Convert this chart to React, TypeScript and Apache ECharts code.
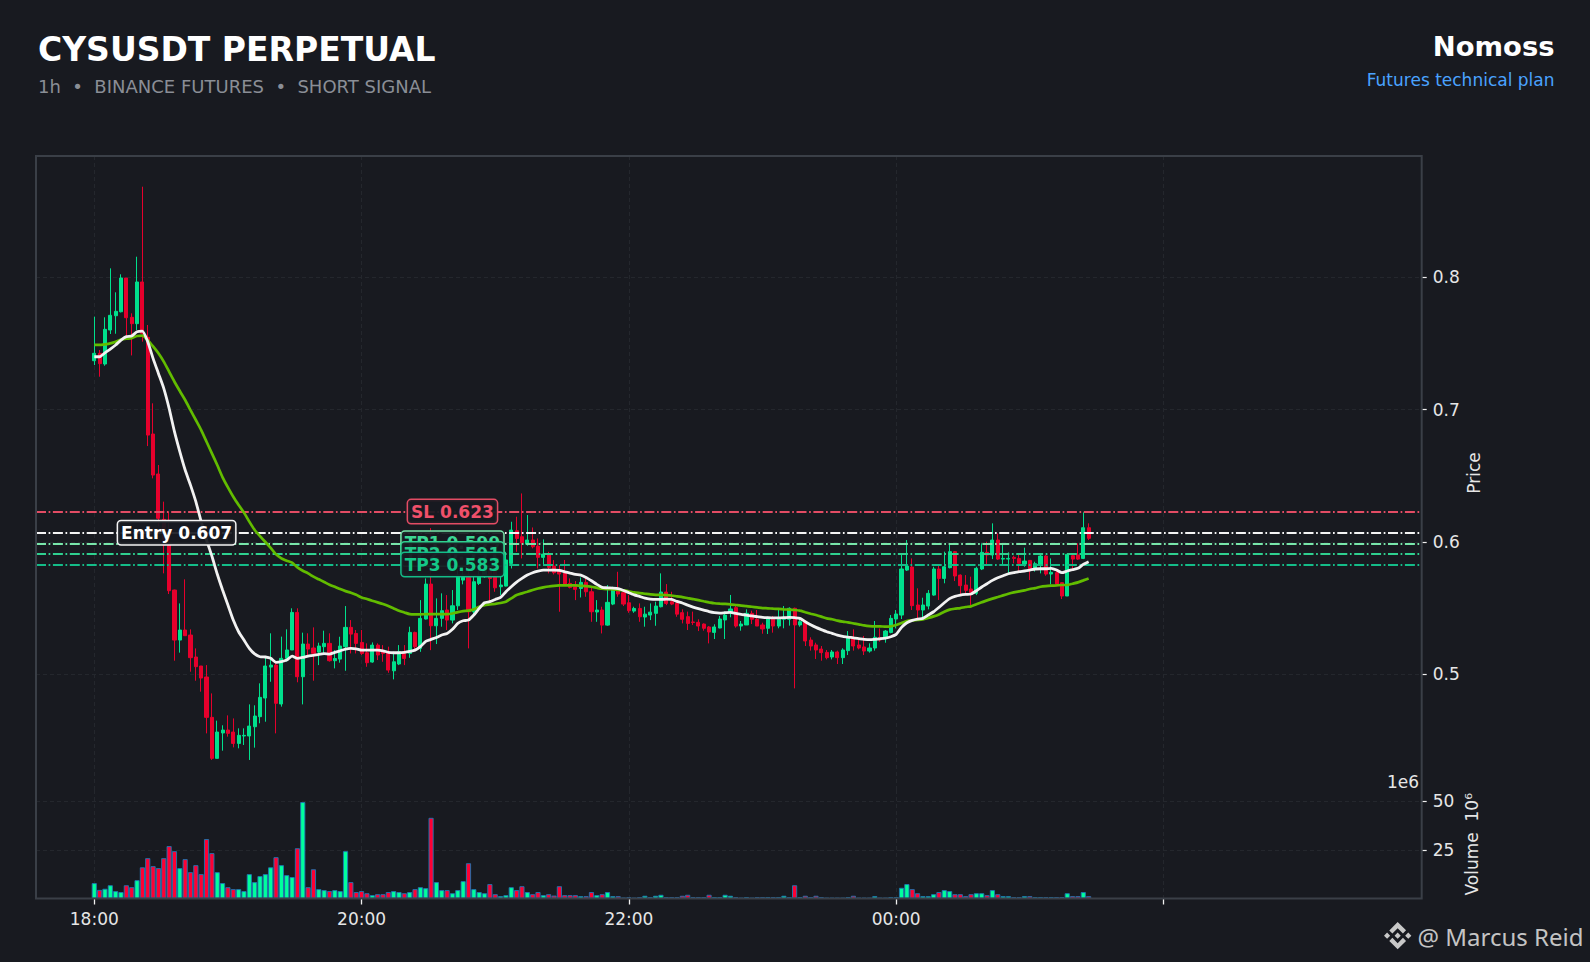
import React, { useEffect, useRef } from "react";
import * as echarts from "echarts";

const opens = [
  .7370,.7426,.7345,.7602,.7710,.7740,.7995,.7698,.7650,.7965,
  .7547,.6816,.6514,.6171,.5977,.5637,.5259,.5335,.5297,.5131,
  .5063,.4980,.4675,.4365,.4557,.4579,.4564,.4478,.4534,.4534,
  .4604,.4680,.4821,.5055,.5070,.4776,.5121,.5184,.5468,.4982,
  .5229,.5199,.5168,.5209,.5234,.5103,.5115,.5209,.5355,.5309,
  .5241,.5163,.5093,.5221,.5171,.5163,.5027,.5078,.5158,.5158,
  .5317,.5196,.5418,.5682,.5367,.5423,.5486,.5410,.5518,.5712,
  .5750,.5473,.5687,.5738,.5800,.5800,.5662,.5667,.5838,.6085,
  .6040,.5984,.6015,.5969,.5884,.5909,.5818,.5788,.5768,.5687,
  .5662,.5649,.5695,.5624,.5471,.5486,.5372,.5531,.5632,.5617,
  .5541,.5478,.5498,.5433,.5448,.5461,.5511,.5622,.5549,.5536,
  .5466,.5436,.5396,.5393,.5380,.5358,.5317,.5350,.5411,.5466,
  .5504,.5365,.5373,.5461,.5416,.5373,.5348,.5416,.5365,.5416,
  .5416,.5499,.5373,.5398,.5259,.5222,.5191,.5166,.5131,.5169,
  .5126,.5179,.5270,.5222,.5207,.5176,.5199,.5277,.5272,.5317,
  .5418,.5448,.5788,.5811,.5524,.5486,.5516,.5599,.5796,.5725,
  .5806,.5927,.5750,.5675,.5645,.5612,.5796,.5922,.5902,.6015,
  .5871,.5871,.5884,.5876,.5834,.5861,.5796,.5831,.5894,.5758,
  .5768,.5693,.5592,.5897,.5902,.5876,.6108,
];
const closes = [
  .7426,.7348,.7607,.7713,.7743,.7995,.7695,.7650,.7965,.7577,
  .6808,.6506,.6179,.5977,.5632,.5259,.5335,.5292,.5126,.5058,
  .4972,.4675,.4365,.4564,.4579,.4554,.4478,.4539,.4539,.4609,
  .4685,.4826,.5063,.5070,.4781,.5121,.5184,.5468,.4982,.5229,
  .5191,.5159,.5214,.5234,.5103,.5120,.5214,.5355,.5304,.5234,
  .5158,.5088,.5221,.5146,.5158,.5032,.5095,.5171,.5120,.5317,
  .5209,.5423,.5682,.5367,.5423,.5481,.5410,.5518,.5750,.5750,
  .5473,.5700,.5750,.5813,.5725,.5654,.5675,.5864,.6090,.6027,
  .5994,.6015,.5964,.5884,.5909,.5808,.5768,.5758,.5682,.5657,
  .5642,.5695,.5624,.5473,.5486,.5372,.5544,.5637,.5607,.5531,
  .5481,.5498,.5435,.5455,.5470,.5516,.5622,.5536,.5531,.5455,
  .5416,.5385,.5392,.5365,.5348,.5320,.5358,.5418,.5448,.5494,
  .5365,.5380,.5461,.5416,.5365,.5343,.5423,.5365,.5416,.5431,
  .5499,.5373,.5398,.5252,.5214,.5184,.5164,.5126,.5169,.5126,
  .5184,.5280,.5214,.5199,.5176,.5199,.5280,.5260,.5327,.5423,
  .5456,.5796,.5818,.5519,.5486,.5524,.5612,.5796,.5725,.5813,
  .5927,.5743,.5670,.5635,.5607,.5801,.5922,.5902,.6015,.5871,
  .5876,.5876,.5876,.5839,.5856,.5796,.5836,.5894,.5758,.5771,
  .5680,.5592,.5907,.5871,.5871,.6108,.6028,
];
const lows = [
  .7337,.7249,.7332,.7572,.7574,.7735,.7539,.7410,.7602,.7514,
  .6725,.6481,.6116,.5763,.5607,.5103,.5164,.5290,.5020,.4952,
  .4869,.4554,.4353,.4365,.4423,.4529,.4448,.4441,.4466,.4353,
  .4446,.4630,.4642,.4944,.4554,.4756,.5096,.5184,.4940,.4773,
  .5146,.4952,.5070,.5146,.5096,.5045,.5088,.5027,.5158,.5158,
  .5146,.5057,.5088,.5108,.5095,.5012,.4962,.5070,.5070,.5125,
  .5183,.5170,.5415,.5183,.5229,.5360,.5335,.5385,.5486,.5680,
  .5196,.5435,.5675,.5730,.5549,.5624,.5599,.5664,.5800,.5926,
  .5876,.5972,.5952,.5800,.5826,.5763,.5755,.5473,.5675,.5649,
  .5561,.5581,.5586,.5397,.5397,.5309,.5367,.5523,.5586,.5516,
  .5465,.5465,.5397,.5360,.5410,.5367,.5506,.5523,.5523,.5435,
  .5385,.5335,.5373,.5327,.5330,.5234,.5267,.5348,.5267,.5431,
  .5353,.5330,.5373,.5380,.5365,.5307,.5305,.5315,.5348,.5348,
  .5368,.4894,.5360,.5214,.5179,.5116,.5103,.5113,.5113,.5078,
  .5078,.5146,.5179,.5189,.5146,.5164,.5179,.5247,.5239,.5310,
  .5347,.5418,.5781,.5486,.5423,.5418,.5491,.5594,.5562,.5688,
  .5801,.5705,.5604,.5609,.5519,.5599,.5788,.5826,.5871,.5864,
  .5821,.5755,.5839,.5781,.5813,.5713,.5776,.5763,.5745,.5680,
  .5675,.5569,.5592,.5796,.5864,.5871,.6015,
];
const highs = [
  .7703,.7451,.7698,.8068,.7887,.8023,.7995,.7728,.8156,.8685,
  .7640,.7048,.6582,.6305,.6229,.5640,.5536,.5718,.5340,.5196,
  .5063,.5070,.4856,.4650,.4615,.4690,.4667,.4592,.4592,.4773,
  .4766,.4932,.5133,.5310,.5096,.5285,.5340,.5499,.5499,.5315,
  .5310,.5355,.5239,.5330,.5310,.5183,.5284,.5516,.5410,.5335,
  .5335,.5234,.5241,.5234,.5221,.5209,.5171,.5221,.5221,.5360,
  .5322,.5561,.5725,.6105,.5574,.5612,.5599,.5637,.5788,.5795,
  .5850,.5738,.5813,.5900,.5880,.5838,.5738,.5926,.6153,.6191,
  .6367,.6204,.6110,.6027,.6020,.5926,.5863,.5826,.5864,.5725,
  .5705,.5732,.5738,.5662,.5561,.5511,.5675,.5662,.5775,.5637,
  .5599,.5511,.5536,.5511,.5536,.5549,.5763,.5682,.5624,.5549,
  .5491,.5474,.5474,.5416,.5385,.5365,.5378,.5441,.5474,.5600,
  .5524,.5403,.5491,.5481,.5486,.5390,.5436,.5441,.5486,.5516,
  .5506,.5504,.5423,.5411,.5280,.5239,.5214,.5184,.5184,.5179,
  .5197,.5327,.5340,.5267,.5290,.5234,.5403,.5347,.5335,.5448,
  .5486,.5907,.6015,.5876,.5650,.5579,.5637,.5813,.5826,.5927,
  .5990,.5932,.5755,.5750,.5738,.5813,.5990,.6002,.6141,.6065,
  .5977,.5922,.5897,.5914,.5957,.5864,.5851,.5907,.5902,.5876,
  .5781,.5695,.5907,.5902,.5990,.6224,.6141,
];
const volumesM = [
  7.9,4.4,5,6.8,3.8,3.3,6.8,5.8,9.4,16,
  20.7,16.6,15.6,20.7,26.9,24.3,15.6,20.2,13.5,17.1,
  12.5,30.5,23.3,13.5,7.9,5.8,4.8,4.8,3.8,12.5,
  8.4,11.5,12.5,16,21.2,17.1,12,11,25.8,49.5,
  5.8,15,4.8,4.3,3.8,4.3,3.8,24.3,8.4,3.3,
  3.8,2.7,1.7,2.2,2.2,3.3,3.8,3.3,2.7,3.3,
  4.8,5.8,5.3,41.4,8.4,4.3,4.3,2.7,4.3,8.9,
  18.1,4.8,3.3,2.7,7.4,2.2,1.2,1.7,5.8,4.3,
  6.3,3.3,2.2,3.3,1.7,2.2,1.5,6.3,1.7,1.7,
  1.7,1.2,1.2,3.3,1.7,2.2,3.3,1.2,1.2,.4,
  .7,.3,.7,1.4,.7,1.4,1.9,.7,.7,.7,
  1.4,1.9,.7,.7,.7,1.9,.7,.7,1.9,1.4,
  .7,.3,.7,.3,.7,.7,.7,.7,.7,1.4,
  .7,6.8,.7,1.4,.7,1.4,.7,.3,.3,.3,
  .3,.7,1.4,.3,.3,.3,1.2,.3,.3,.7,
  .7,5.5,7.4,4.8,2.7,1.2,1.2,2.2,3.3,4.3,
  3.8,2.2,2.2,1.2,2.2,2.7,2.7,1.7,4.3,2.2,
  1.2,1.2,.7,.7,1.2,1.2,.7,.7,.7,.7,
  .7,.7,2.7,1.2,1.2,3.3,1.2,
];
const maFast = [
  .7400,.7400,.7430,.7458,.7489,.7526,.7552,.7557,.7589,.7594,
  .7514,.7388,.7274,.7161,.7010,.6834,.6683,.6544,.6430,.6305,
  .6154,.6015,.5894,.5758,.5637,.5524,.5410,.5322,.5259,.5196,
  .5154,.5133,.5131,.5121,.5091,.5096,.5108,.5138,.5121,.5128,
  .5138,.5143,.5151,.5156,.5153,.5166,.5178,.5191,.5196,.5193,
  .5183,.5183,.5183,.5183,.5178,.5166,.5163,.5163,.5166,.5173,
  .5183,.5209,.5249,.5264,.5279,.5297,.5309,.5340,.5385,.5405,
  .5410,.5448,.5498,.5541,.5549,.5566,.5581,.5624,.5662,.5697,
  .5725,.5750,.5768,.5780,.5788,.5788,.5788,.5785,.5775,.5765,
  .5755,.5750,.5732,.5707,.5680,.5657,.5654,.5652,.5647,.5634,
  .5617,.5601,.5589,.5576,.5569,.5566,.5566,.5569,.5566,.5551,
  .5539,.5523,.5508,.5496,.5486,.5474,.5466,.5463,.5466,.5469,
  .5461,.5453,.5448,.5441,.5436,.5431,.5428,.5426,.5426,.5428,
  .5431,.5428,.5423,.5398,.5375,.5355,.5338,.5322,.5310,.5297,
  .5287,.5282,.5275,.5270,.5265,.5262,.5265,.5269,.5274,.5284,
  .5302,.5355,.5390,.5408,.5418,.5423,.5448,.5473,.5506,.5541,
  .5572,.5589,.5599,.5604,.5607,.5632,.5660,.5685,.5710,.5730,
  .5745,.5760,.5768,.5776,.5781,.5788,.5796,.5798,.5798,.5801,
  .5788,.5768,.5781,.5791,.5801,.5831,.5851,
];
const maSlow = [
  .7489,.7489,.7494,.7501,.7514,.7529,.7536,.7541,.7557,.7559,
  .7525,.7478,.7426,.7363,.7287,.7211,.7141,.7073,.6997,.6922,
  .6846,.6758,.6670,.6582,.6489,.6413,.6342,.6280,.6222,.6154,
  .6091,.6045,.6000,.5955,.5907,.5877,.5859,.5844,.5808,.5783,
  .5763,.5738,.5718,.5698,.5677,.5662,.5644,.5629,.5617,.5601,
  .5581,.5569,.5556,.5544,.5531,.5516,.5498,.5481,.5468,.5455,
  .5453,.5453,.5455,.5455,.5455,.5455,.5455,.5460,.5470,.5478,
  .5481,.5491,.5511,.5523,.5528,.5533,.5539,.5549,.5574,.5599,
  .5612,.5624,.5637,.5649,.5657,.5664,.5669,.5672,.5672,.5672,
  .5672,.5669,.5667,.5662,.5654,.5647,.5644,.5642,.5639,.5634,
  .5627,.5619,.5614,.5609,.5604,.5601,.5601,.5599,.5596,.5589,
  .5584,.5576,.5569,.5561,.5552,.5544,.5537,.5534,.5532,.5529,
  .5524,.5519,.5516,.5511,.5506,.5501,.5499,.5496,.5494,.5491,
  .5489,.5486,.5481,.5469,.5458,.5448,.5436,.5423,.5416,.5406,
  .5398,.5393,.5385,.5378,.5370,.5365,.5363,.5363,.5360,.5363,
  .5373,.5388,.5403,.5408,.5411,.5415,.5426,.5438,.5453,.5473,
  .5489,.5496,.5501,.5509,.5514,.5529,.5544,.5559,.5572,.5584,
  .5597,.5609,.5619,.5627,.5635,.5645,.5652,.5662,.5667,.5670,
  .5672,.5675,.5675,.5685,.5695,.5710,.5725,
];

const xTicks = [0, 50, 100, 150, 200];
const xTickLabels = ["18:00", "20:00", "22:00", "00:00", ""];
const priceTicks = [0.5, 0.6, 0.7, 0.8];
const volumeTicks = [25, 50];

const levelNames = ["SL", "Entry", "TP1", "TP2", "TP3"];
const levelPrices = [0.623, 0.607, 0.599, 0.591, 0.583];
const levelColors = ["#E34C64", "#F4F4F4", "#78E6AA", "#2FD08F", "#14BC88"];
const levelTextColors = ["#F0506A", "#FFFFFF", "#3CD694", "#24C98A", "#14C788"];
const levelLabelX = [67, 15.4, 67, 67, 67];

const BG = "#181A20";
const FONT = "DejaVu Sans";
const CANDLE_UP = "#00E08C";
const CANDLE_DOWN = "#E6002C";
const VOL_UP = "#00FF9C";
const VOL_DOWN = "#FF0033";

const LOGO =
  "M16.624 13.92l2.718 2.716-7.353 7.353-7.353-7.352 2.717-2.717 4.636 4.66 4.635-4.66zm4.637-4.636L24 12l-2.715 2.716L18.568 12l2.693-2.716zm-9.272 0l2.716 2.691-2.717 2.717L9.272 12l2.716-2.715zm-9.273 0L5.41 12l-2.692 2.692L0 12l2.716-2.716zM11.99.01l7.352 7.33-2.717 2.715-4.636-4.636-4.635 4.66-2.717-2.716L11.989.011z";
echarts.graphic.registerShape("binanceLogo", echarts.graphic.extendPath(LOGO, {}) as any);

const GRID_LEFT = 36;
const GRID_RIGHT = 1590 - 1421.7;
const xMin = -10.9;
const xMax = 248.3;
const AXIS_FONT = 17;

const splitLine = { show: true, lineStyle: { color: "#24272D", width: 1, type: [4, 3] as any } };

export default function App() {
  const ref = useRef<HTMLDivElement>(null);
  useEffect(() => {
    document.body.style.margin = "0";
    document.body.style.background = BG;
    const chart = echarts.init(ref.current!, undefined, { renderer: "svg" });
    const idx = opens.map((_, i) => i);
    chart.setOption({
      animation: false,
      backgroundColor: BG,
      textStyle: { fontFamily: FONT },
      grid: [
        { left: GRID_LEFT, right: GRID_RIGHT, top: 156, height: 634 },
        { left: GRID_LEFT, right: GRID_RIGHT, top: 790, height: 108.5 },
      ],
      xAxis: [
        {
          type: "value", gridIndex: 0, min: xMin, max: xMax,
          axisLine: { show: false, onZero: false },
          axisTick: { show: false, customValues: xTicks },
          axisLabel: { show: false, customValues: xTicks },
          splitLine,
        },
        {
          type: "value", gridIndex: 1, min: xMin, max: xMax,
          axisLine: { show: false, onZero: false },
          axisTick: { show: true, customValues: xTicks, length: 6, lineStyle: { color: "#F0F0F0", width: 1.3 } },
          axisLabel: {
            show: true, customValues: xTicks.slice(0, 4), margin: 12, color: "#E6E6E6", fontSize: AXIS_FONT, fontFamily: FONT,
            formatter: (v: number) => xTickLabels[xTicks.indexOf(v)] ?? "",
          },
          splitLine,
        },
      ],
      yAxis: [
        {
          type: "value", gridIndex: 0, position: "right", min: 0.4126, max: 0.8917, scale: true,
          name: "Price", nameLocation: "middle", nameRotate: 90, nameGap: 44, nameMoveOverlap: false,
          nameTextStyle: { color: "#E6E6E6", fontSize: AXIS_FONT, fontFamily: FONT },
          axisLine: { show: false, onZero: false },
          axisTick: { show: true, customValues: priceTicks, length: 5, lineStyle: { color: "#F0F0F0", width: 1.2 } },
          axisLabel: {
            show: true, customValues: priceTicks, margin: 11, color: "#E6E6E6", fontSize: AXIS_FONT, fontFamily: FONT,
            formatter: (v: number) => v.toFixed(1),
          },
          splitLine,
        },
        {
          type: "value", gridIndex: 1, position: "right", min: 0, max: 55.7,
          name: "Volume  10⁶", nameLocation: "middle", nameRotate: 90, nameGap: 42, nameMoveOverlap: false,
          nameTextStyle: { color: "#E6E6E6", fontSize: AXIS_FONT, fontFamily: FONT },
          axisLine: { show: false, onZero: false },
          axisTick: { show: true, customValues: volumeTicks, length: 5, lineStyle: { color: "#F0F0F0", width: 1.2 } },
          axisLabel: {
            show: true, customValues: volumeTicks, margin: 11, color: "#E6E6E6", fontSize: AXIS_FONT, fontFamily: FONT,
            formatter: (v: number) => String(v),
          },
          splitLine,
        },
      ],
      series: [
        {
          type: "candlestick", xAxisIndex: 0, yAxisIndex: 0, barWidth: 3.6, z: 2,
          itemStyle: {
            color: CANDLE_UP, color0: CANDLE_DOWN, borderColor: CANDLE_UP, borderColor0: CANDLE_DOWN,
            borderColorDoji: CANDLE_UP, borderWidth: 1,
          },
          data: idx.map((i) => [i, opens[i], closes[i], lows[i], highs[i]]),
          markLine: {
            silent: true, symbol: "none", animation: false, z: 3, precision: 3,
            label: { show: false },
            data: levelPrices.map((p, i) => ({
              yAxis: p,
              lineStyle: { color: levelColors[i], width: 2, opacity: 1, type: [10, 2.6, 1.7, 2.6] },
            })),
          },
        },
        {
          type: "line", xAxisIndex: 0, yAxisIndex: 0, z: 4, showSymbol: false, symbol: "none", smooth: 0.2,
          lineStyle: { color: "#62BC00", width: 2.7 },
          data: idx.map((i) => [i, maSlow[i]]),
        },
        {
          type: "line", xAxisIndex: 0, yAxisIndex: 0, z: 5, showSymbol: false, symbol: "none", smooth: 0.2,
          lineStyle: { color: "#F2F2F2", width: 2.8 },
          data: idx.map((i) => [i, maFast[i]]),
        },
        {
          type: "scatter", xAxisIndex: 0, yAxisIndex: 0, z: 8, symbolSize: 0, silent: true,
          itemStyle: { opacity: 1 },
          data: levelNames.map((n, i) => ({
            value: [levelLabelX[i], levelPrices[i]],
            label: {
              show: true, position: "inside", formatter: `${n} ${levelPrices[i].toFixed(3)}`,
              color: levelTextColors[i], fontFamily: FONT, fontWeight: "bold", fontSize: 17,
              backgroundColor: "rgba(24,26,32,0.93)", borderColor: levelColors[i], borderWidth: 1.5,
              borderRadius: 3, padding: [3, 3, 3, 3],
            },
          })),
        },
        {
          type: "bar", xAxisIndex: 1, yAxisIndex: 1, barWidth: 5.1, z: 2,
          data: idx.map((i) => ({
            value: [i, volumesM[i]],
            itemStyle: {
              color: closes[i] >= opens[i] ? VOL_UP : VOL_DOWN,
              borderColor: "#1F77B4", borderWidth: 0.9,
            },
          })),
        },
      ],
      graphic: [
        { type: "rect", z: 10, silent: true, shape: { x: 36, y: 156, width: 1385.7, height: 742.5 }, style: { fill: "none", stroke: "#3A3F47", lineWidth: 2 } },
        { type: "text", x: 38, y: 49, style: { text: "CYSUSDT PERPETUAL", fill: "#FFFFFF", font: `bold 33px "${FONT}"`, textVerticalAlign: "middle" } },
        { type: "text", x: 38, y: 86, style: { text: "1h  •  BINANCE FUTURES  •  SHORT SIGNAL", fill: "#8A8E96", font: `18px "${FONT}"`, textVerticalAlign: "middle" } },
        { type: "text", x: 1554.5, y: 46.5, style: { text: "Nomoss", fill: "#FFFFFF", font: `bold 27.4px "${FONT}"`, textAlign: "right", textVerticalAlign: "middle" } },
        { type: "text", x: 1554.5, y: 80, style: { text: "Futures technical plan", fill: "#4AA3FF", font: `17px "${FONT}"`, textAlign: "right", textVerticalAlign: "middle" } },
        { type: "text", x: 1419, y: 781.7, style: { text: "1e6", fill: "#E6E6E6", font: `17px "${FONT}"`, textAlign: "right", textVerticalAlign: "middle" } },
        { type: "binanceLogo", x: 1384, y: 922, scaleX: 1.14, scaleY: 1.14, style: { fill: "#C8C8C8" } },
        { type: "text", x: 1417.5, y: 936, style: { text: "@ Marcus Reid", fill: "#C4C4C4", font: `24px "Noto Sans"`, textVerticalAlign: "middle" } },
      ],
    });
    return () => chart.dispose();
  }, []);
  return <div ref={ref} style={{ position: "fixed", left: 0, top: 0, width: 1590, height: 962 }} />;
}
